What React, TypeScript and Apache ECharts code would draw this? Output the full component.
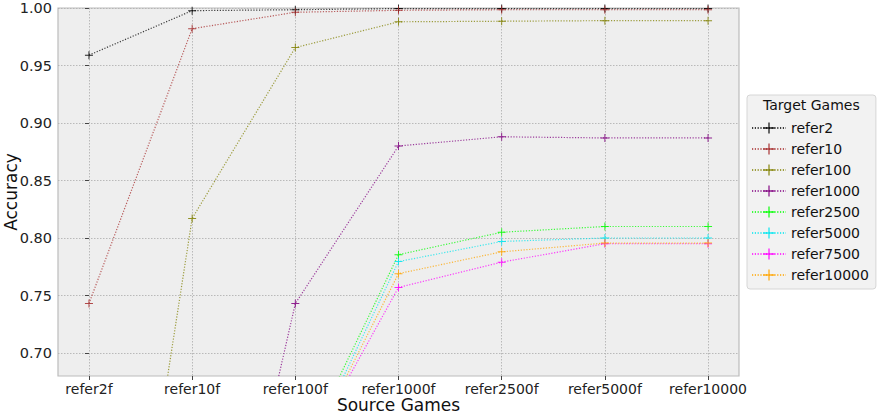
import React, { useEffect, useRef } from "react";
import * as echarts from "echarts";

const categories = ["refer2f", "refer10f", "refer100f", "refer1000f", "refer2500f", "refer5000f", "refer10000"];
const yTicks = [0.7, 0.75, 0.8, 0.85, 0.9, 0.95, 1.0];

const seriesNames = ["refer2", "refer10", "refer100", "refer1000", "refer2500", "refer5000", "refer7500", "refer10000"];
const seriesColors = ["#000000", "#a52a2a", "#808000", "#800080", "#00ff00", "#00e5ee", "#ff00ff", "#ffa500"];

const refer2 = [0.959, 0.9977, 0.9985, 0.9995, 0.9995, 0.9995, 0.9995];
const refer10 = [0.743, 0.982, 0.9963, 0.998, 0.9985, 0.9985, 0.9985];
const refer100 = [0.24, 0.817, 0.9656, 0.988, 0.9885, 0.989, 0.989];
const refer1000 = [null, 0.35, 0.743, 0.88, 0.888, 0.887, 0.887];
const refer2500 = [null, null, 0.6, 0.7855, 0.805, 0.81, 0.81];
const refer5000 = [null, null, 0.592, 0.7795, 0.797, 0.8, 0.8];
const refer7500 = [null, null, 0.595, 0.757, 0.779, 0.795, 0.795];
const refer10000 = [null, null, 0.592, 0.769, 0.788, 0.7956, 0.7956];

const seriesValues = [refer2, refer10, refer100, refer1000, refer2500, refer5000, refer7500, refer10000];

const FONT = "DejaVu Sans";
const PLUS = "path://M0,4.4H10V5.6H0Z M4.4,0H5.6V10H4.4Z";

export default function App() {
  const ref = useRef<HTMLDivElement>(null);
  useEffect(() => {
    if (!ref.current) return;
    const chart = echarts.init(ref.current, undefined, { renderer: "svg" });
    const series = seriesNames.map((name, si) => ({
      name,
      type: "line",
      data: seriesValues[si].map((v, i) => [i, v]),
      symbol: PLUS,
      symbolSize: 8,
      showSymbol: true,
      connectNulls: false,
      clip: true,
      itemStyle: { color: seriesColors[si], opacity: 0.85 },
      lineStyle: { color: seriesColors[si], width: 1.2, type: [1.2, 1.6], opacity: 0.75 },
      emphasis: { disabled: true },
    }));
    chart.setOption({
      animation: false,
      backgroundColor: "#ffffff",
      textStyle: { fontFamily: FONT },
      grid: {
        left: 58,
        right: 143,
        top: 8,
        bottom: 38,
        show: true,
        backgroundColor: "#eeeeee",
        borderColor: "#bcbcbc",
        borderWidth: 1.2,
        containLabel: false,
        outerBoundsMode: "none",
      },
      xAxis: {
        type: "value",
        min: -0.3,
        max: 6.3,
        name: "Source Games",
        nameLocation: "middle",
        nameGap: 21,
        nameMoveOverlap: false,
        nameTextStyle: { fontFamily: FONT, fontSize: 17, color: "#111", lineHeight: 16 },
        axisLine: { show: false },
        axisTick: {
          show: true,
          length: 4,
          inside: false,
          customValues: [0, 1, 2, 3, 4, 5, 6],
          lineStyle: { color: "#444", width: 1 },
        },
        axisLabel: {
          customValues: [0, 1, 2, 3, 4, 5, 6],
          formatter: (v: number) => categories[Math.round(v)] ?? "",
          fontFamily: FONT,
          fontSize: 14,
          lineHeight: 14,
          color: "#222",
          margin: 6,
        },
        splitLine: { show: true, lineStyle: { color: "#b2b2b2", type: [1.5, 1.5], width: 0.9 } },
      },
      yAxis: {
        type: "value",
        min: 0.68,
        max: 1.0,
        name: "Accuracy",
        nameLocation: "middle",
        nameGap: 39,
        nameMoveOverlap: false,
        nameTextStyle: { fontFamily: FONT, fontSize: 17, color: "#111" },
        axisLine: { show: false },
        axisTick: {
          show: true,
          length: 4,
          inside: false,
          customValues: yTicks,
          lineStyle: { color: "#444", width: 1 },
        },
        axisLabel: {
          customValues: yTicks,
          formatter: (v: number) => v.toFixed(2),
          fontFamily: FONT,
          fontSize: 14.5,
          color: "#222",
          margin: 6,
        },
        splitLine: { show: true, lineStyle: { color: "#b2b2b2", type: [1.5, 1.5], width: 0.9 } },
      },
      legend: {
        orient: "vertical",
        left: 747,
        top: 95,
        padding: [26, 7, 7, 4],
        itemGap: 7,
        itemWidth: 34,
        itemHeight: 14,
        backgroundColor: "#f2f2f2",
        borderColor: "#d6d6d6",
        borderWidth: 1,
        borderRadius: 3,
        textStyle: { fontFamily: FONT, fontSize: 14, color: "#111" },
        data: seriesNames,
        selectedMode: false,
      },
      graphic: [
        {
          type: "text",
          left: 763,
          top: 98,
          z: 100,
          style: { text: "Target Games", fontFamily: FONT, fontSize: 14, fill: "#111" },
        },
      ],
      series,
    });
    return () => chart.dispose();
  }, []);
  return <div ref={ref} style={{ position: "absolute", left: 0, top: 0, width: 882, height: 414 }} />;
}
